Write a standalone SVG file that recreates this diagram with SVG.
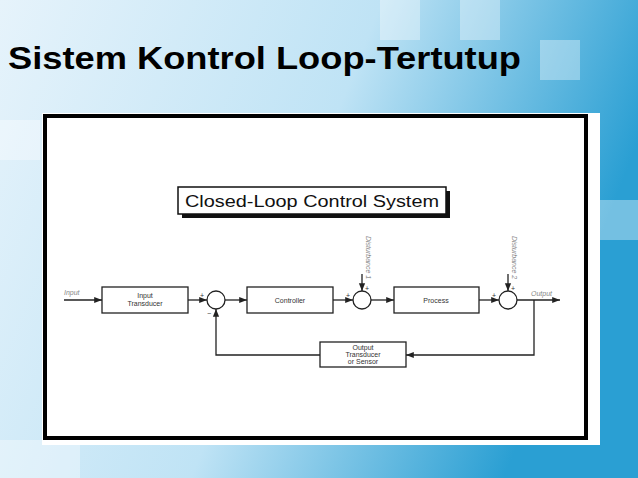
<svg xmlns="http://www.w3.org/2000/svg" width="638" height="478" viewBox="0 0 638 478">
<defs>
<linearGradient id="bg" x1="0" y1="0" x2="1" y2="0.3">
<stop offset="0" stop-color="#e6f3fb"/><stop offset="0.55" stop-color="#bfe3f5"/><stop offset="1" stop-color="#2a9fd3"/>
</linearGradient>
<marker id="ar" viewBox="0 0 10 10" refX="10" refY="5" markerWidth="6" markerHeight="6" orient="auto"><path d="M0,1 L10,5 L0,9 z" fill="#222"/></marker>
<style>
.b{fill:#fff;stroke:#222;stroke-width:1.3}
.l{fill:none;stroke:#222;stroke-width:1.3}
.t{font-family:"Liberation Sans",Arial,sans-serif;font-size:7px;fill:#333;text-anchor:middle}
.g{font-family:"Liberation Sans",Arial,sans-serif;font-size:7px;fill:#888;font-style:italic}
.s{font-family:"Liberation Sans",Arial,sans-serif;font-size:7px;fill:#333}
</style>
</defs>
<rect width="638" height="478" fill="url(#bg)"/>
<g fill="#fff" opacity="0.35">
<rect x="380" y="0" width="40" height="40"/><rect x="460" y="0" width="40" height="40"/><rect x="540" y="40" width="40" height="40"/><rect x="0" y="120" width="40" height="40"/><rect x="590" y="200" width="48" height="40"/><rect x="0" y="440" width="80" height="38"/>
</g>
<text x="8" y="69" font-family="Liberation Sans,Arial,sans-serif" font-weight="bold" font-size="31" fill="#000" textLength="513" lengthAdjust="spacingAndGlyphs">Sistem Kontrol Loop-Tertutup</text>
<rect x="42" y="113" width="558" height="332" fill="#fff"/>
<rect x="45" y="116" width="541" height="322" fill="#fff" stroke="#000" stroke-width="4"/>
<g id="title"><rect x="182" y="191" width="268" height="27" fill="#111"/><rect x="178" y="187" width="268" height="27" fill="#fff" stroke="#111" stroke-width="1.5"/>
<text x="312" y="207" font-family="Liberation Sans,Arial,sans-serif" font-size="16" fill="#111" text-anchor="middle" textLength="254" lengthAdjust="spacingAndGlyphs">Closed-Loop Control System</text></g>
<g id="connectors">
<line class="l" x1="64" y1="300" x2="102" y2="300" marker-end="url(#ar)"/>
<line class="l" x1="188" y1="300" x2="207" y2="300" marker-end="url(#ar)"/>
<line class="l" x1="225" y1="300" x2="247" y2="300" marker-end="url(#ar)"/>
<line class="l" x1="333" y1="300" x2="353" y2="300" marker-end="url(#ar)"/>
<line class="l" x1="371" y1="300" x2="394" y2="300" marker-end="url(#ar)"/>
<line class="l" x1="479" y1="300" x2="499" y2="300" marker-end="url(#ar)"/>
<line class="l" x1="517" y1="300" x2="560" y2="300" marker-end="url(#ar)"/>
<polyline class="l" points="534,300 534,355 406,355" marker-end="url(#ar)"/>
<polyline class="l" points="320,355 216,355 216,309" marker-end="url(#ar)"/>
<line class="l" x1="362" y1="274" x2="362" y2="291" marker-end="url(#ar)"/>
<line class="l" x1="508" y1="274" x2="508" y2="291" marker-end="url(#ar)"/>
</g>
<text class="g" x="64" y="295">Input</text>
<text class="g" x="531" y="296">Output</text>
<text class="g" transform="translate(366,236) rotate(90)">Disturbance 1</text>
<text class="g" transform="translate(512,236) rotate(90)">Disturbance 2</text>
<text class="s" x="200" y="298">+</text><text class="s" x="207" y="316">−</text>
<text class="s" x="346" y="298">+</text><text class="s" x="365" y="291">+</text>
<text class="s" x="492" y="298">+</text><text class="s" x="511" y="291">+</text>
<g id="input-transducer"><rect class="b" x="102" y="287" width="86" height="26"/><text class="t" x="145" y="298">Input</text><text class="t" x="145" y="306">Transducer</text></g>
<g id="sum1"><circle class="b" cx="216" cy="300" r="9"/></g>
<g id="controller"><rect class="b" x="247" y="287" width="86" height="26"/><text class="t" x="290" y="303">Controller</text></g>
<g id="sum2"><circle class="b" cx="362" cy="300" r="9"/></g>
<g id="process"><rect class="b" x="394" y="287" width="85" height="26"/><text class="t" x="436" y="303">Process</text></g>
<g id="sum3"><circle class="b" cx="508" cy="300" r="9"/></g>
<g id="output-transducer"><rect class="b" x="320" y="342" width="86" height="25"/><text class="t" x="363" y="350">Output</text><text class="t" x="363" y="357">Transducer</text><text class="t" x="363" y="364">or Sensor</text></g>
</svg>
